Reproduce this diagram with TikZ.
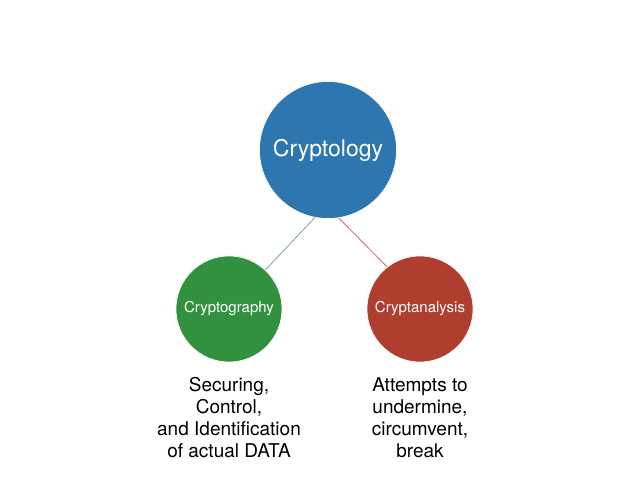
\documentclass[tikz,border=0pt]{standalone}
\usepackage{fontspec}
\setmainfont{TeX Gyre Heros}
\usetikzlibrary{positioning}
\definecolor{cblue}{RGB}{46,118,176}
\definecolor{cgreen}{RGB}{50,145,62}
\definecolor{cred}{RGB}{176,62,46}

\begin{document}
\begin{tikzpicture}[x=1pt,y=1pt,on grid,
    bubble/.style={circle,inner sep=0pt,text=white,draw=white,line width=0.6pt},
    note/.style={align=center,inner sep=0pt,font=\fontsize{19}{22}\selectfont}]
	\useasboundingbox (0,0) rectangle (638,479);
	\node[bubble,fill=cblue,minimum size=137pt,font=\fontsize{23}{26}\selectfont] (0) at (328,329) {Cryptology};
	\node[bubble,fill=cgreen,minimum size=106pt,font=\fontsize{15}{18}\selectfont,below left=159pt and 99pt of 0] (1) {Cryptography};
	\node[bubble,fill=cred,minimum size=106pt,font=\fontsize{15}{18}\selectfont,below right=159pt and 92pt of 0] (2) {Cryptanalysis};
	\node[note,below=109pt of 1] (3) {Securing,\\Control,\\and Identification\\of actual DATA};
	\node[note,below=109pt of 2] (4) {Attempts to\\undermine,\\circumvent,\\break};
	\draw[color=cgreen!70,line width=0.8pt] (0.-101) -- (1.47);
	\draw[color=cred!75,line width=0.8pt] (0.-81) -- (2.128);
\end{tikzpicture}
\end{document}
